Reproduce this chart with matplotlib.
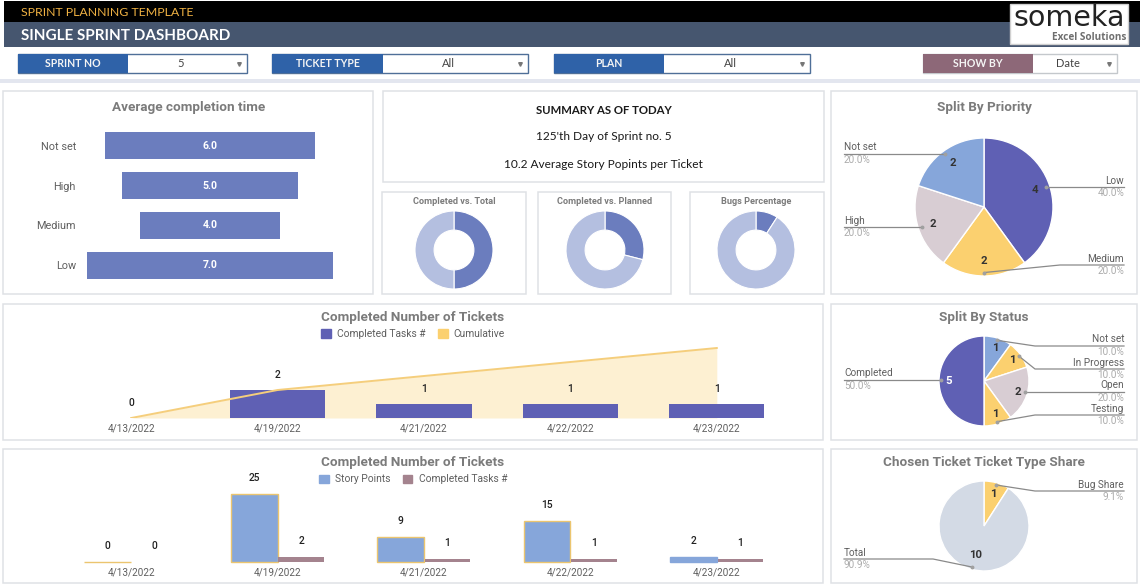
import numpy as np
import matplotlib
matplotlib.use('Agg')
import matplotlib.pyplot as plt
from matplotlib.patches import Rectangle, Patch

plt.rcParams['font.family'] = ['Roboto', 'DejaVu Sans']

# -----------------------------
# data
# -----------------------------

priority_labels = ['Not set', 'High', 'Medium', 'Low']
avg_time = [6.0, 5.0, 4.0, 7.0]

donut_titles = ['Completed vs. Total', 'Completed vs. Planned', 'Bugs Percentage']
donut_done = [50, 29, 9.1]

split_priority_labels = ['Low', 'Medium', 'High', 'Not set']
split_priority = [4, 2, 2, 2]
split_priority_pct = ['40.0%', '20.0%', '20.0%', '20.0%']

split_status_labels = ['Not set', 'In Progress', 'Open', 'Testing', 'Completed']
split_status = [1, 1, 2, 1, 5]
split_status_pct = ['10.0%', '10.0%', '20.0%', '10.0%', '50.0%']

share_labels = ['Bug Share', 'Total']
share_values = [1, 10]
share_pct = ['9.1%', '90.9%']

dates = ['4/13/2022', '4/19/2022', '4/21/2022', '4/22/2022', '4/23/2022']
completed_tasks = [0, 2, 1, 1, 1]
cumulative = [0, 2, 3, 4, 5]
story_points = [0, 25, 9, 15, 2]

filters = ['SPRINT NO', 'TICKET TYPE', 'PLAN', 'SHOW BY']
filter_values = ['5', 'All', 'All', 'Date']

summary_lines = ['SUMMARY AS OF TODAY', "125'th Day of Sprint no. 5",
                 '10.2 Average Story Popints per Ticket']

# -----------------------------
# colours
# -----------------------------

PURPLE = '#5F60B4'
BLUE = '#86A6DA'
YELLOW = '#FBD06F'
MAUVE = '#D8CDD3'
FUNNEL = '#6B7DBE'
DONUT_BG = '#B4BFE0'
TITLE = '#7B7B7B'
LABEL = '#5F5F5F'
PCT = '#ABABAB'
LINE = '#8A8A8A'
BORDER = '#DFE1E5'
BAR_EDGE = '#EBC56F'

W, H = 1140, 585
fig = plt.figure(figsize=(W / 100, H / 100), dpi=100, facecolor='white')


def px_axes(x0, y0, x1, y1, zorder=2):
    # axes placed by pixel box, y counted from the top like the screenshot
    ax = fig.add_axes([x0 / W, 1 - y1 / H, (x1 - x0) / W, (y1 - y0) / H], zorder=zorder)
    ax.patch.set_alpha(0)
    return ax


bg = px_axes(0, 0, W, H, zorder=0)
bg.set_xlim(0, W)
bg.set_ylim(H, 0)
bg.axis('off')
fg = px_axes(0, 0, W, H, zorder=10)
fg.set_xlim(0, W)
fg.set_ylim(H, 0)
fg.axis('off')


def box(x0, y0, x1, y1, fc='white', ec='none', lw=1.0, ax=bg, z=1):
    ax.add_patch(Rectangle((x0, y0), x1 - x0, y1 - y0, facecolor=fc, edgecolor=ec, linewidth=lw, zorder=z))


# -----------------------------
# header and filters
# -----------------------------

box(4, 1, W, 22, fc='black')
box(4, 22, W, 47, fc='#46566F')
bg.text(21, 12.5, 'SPRINT PLANNING TEMPLATE', family='Lato', fontsize=8.9, color='#F0B243', va='center', zorder=3)
bg.text(21, 35.5, 'SINGLE SPRINT DASHBOARD', family='Lato', fontsize=11.0, weight='bold', color='white', va='center', zorder=3)

box(1010, 4, 1128, 43.5, fc='white', ec='#D0D0D0', z=2)
bg.text(1069, 18, 'someka', family='DejaVu Sans', fontsize=20.5, color='#222222', ha='center', va='center', zorder=3)
bg.text(1126, 37.5, 'Excel Solutions', family='Open Sans', fontsize=7.2, weight='bold', color='#6F6F6F', ha='right', va='center', zorder=3)

filter_boxes = [(18, 128, 247), (272, 383, 528), (554, 664, 810), (923, 1033, 1117)]
for i, (name, val) in enumerate(zip(filters, filter_values)):
    x0, xm, x1 = filter_boxes[i]
    last = i == len(filters) - 1
    box(x0, 53.5, x1, 72.5, fc='white', ec='#C4C8CC' if last else '#4F6F98', lw=1)
    box(x0, 53.5, xm, 72.5, fc='#8D6878' if last else '#2F62A8', z=2)
    bg.text((x0 + xm) / 2, 63.5, name, family='Lato', fontsize=7.6, weight='bold', color='#F4F4F4', ha='center', va='center', zorder=3)
    bg.text((xm + x1) / 2 - 7, 63.5, val, family='Lato', fontsize=8, color='#444444', ha='center', va='center', zorder=3)
    bg.plot([x1 - 8], [63.5], marker='v', ms=2.6, color='#777777', zorder=3)

box(0, 79, W, 83, fc='#E3E6EF')

# -----------------------------
# panels
# -----------------------------

panels = [(3, 91, 373, 294), (383, 91, 824, 182), (382, 192, 526, 294), (538, 192, 671, 294),
          (690, 192, 824, 294), (831, 91, 1137, 294), (3, 304, 823, 440), (831, 304, 1137, 440),
          (3, 449, 823, 583), (831, 449, 1137, 583)]
for p in panels:
    box(*p, ec=BORDER, lw=1.1)

for i, line in enumerate(summary_lines):
    bg.text(603.5, [110, 137, 165][i], line, family='Lato', fontsize=8.2 if i == 0 else 8.6, weight='bold' if i == 0 else 'normal',
            color='#1A1A1A', ha='center', va='center', zorder=3)


def title(x, y, s, size=9.7):
    fg.text(x, y, s, fontsize=size, weight='bold', color=TITLE, ha='center', va='center')


title(188.5, 107.5, 'Average completion time')
title(984, 107.5, 'Split By Priority')
title(413, 317.5, 'Completed Number of Tickets')
title(984, 317.5, 'Split By Status')
title(413, 462.5, 'Completed Number of Tickets')
title(984, 462.5, 'Chosen Ticket Ticket Type Share')

# -----------------------------
# average completion time (centred bars)
# -----------------------------

ax = px_axes(85, 126, 335, 285)
ypos = np.arange(len(priority_labels))
ax.barh(ypos, avg_time, left=-np.array(avg_time) / 2, height=0.68, color=FUNNEL)
for y, v in zip(ypos, avg_time):
    ax.text(0, y, f'{v:.1f}', color='white', fontsize=7.6, weight='bold', ha='center', va='center')
ax.set_xlim(-3.56, 3.56)
ax.set_ylim(3.5, -0.5)
ax.set_yticks(ypos, priority_labels, fontsize=7.8, color=LABEL)
ax.set_xticks([])
ax.tick_params(axis='y', length=0, pad=6.5)
for s in ax.spines.values():
    s.set_visible(False)

# -----------------------------
# donuts
# -----------------------------

for cx, t, done in zip([454, 605, 756], donut_titles, donut_done):
    ax = px_axes(cx - 39, 211, cx + 39, 289)
    ax.pie([done, 100 - done], colors=[FUNNEL, DONUT_BG], startangle=90, counterclock=False, radius=1,
           wedgeprops=dict(width=0.49, edgecolor='white', linewidth=0.8))
    ax.set_xlim(-1, 1)
    ax.set_ylim(-1, 1)
    title(cx, 201, t, size=6.6)

# -----------------------------
# pies
# -----------------------------


def pie_chart(cx, cy, r, values, colors, names, pcts, label_spec, dist=0.78):
    ax = px_axes(cx - r, cy - r, cx + r, cy + r)
    wedges, _ = ax.pie(values, colors=colors, startangle=90, counterclock=False, radius=1,
                       wedgeprops=dict(edgecolor='white', linewidth=1.0))
    ax.set_xlim(-1, 1)
    ax.set_ylim(-1, 1)
    for w, v, c, name, pct, spec in zip(wedges, values, colors, names, pcts, label_spec):
        ang = np.deg2rad((w.theta1 + w.theta2) / 2)
        d = spec[3] if len(spec) > 3 else dist
        ax.text(d * np.cos(ang), d * np.sin(ang), str(v), fontsize=8.2, weight='bold',
                color='white' if c == PURPLE and v == 5 else '#333333', ha='center', va='center')
        # leader line from the wedge to the label, with elbow if asked
        ax_x = cx + 0.95 * r * np.cos(ang)
        ax_y = cy - 0.95 * r * np.sin(ang)
        side, ly, elbow = spec[:3]
        end = 844 if side == 'left' else 1124
        xs = [ax_x, elbow, end] if elbow else [ax_x, end]
        ys = [ax_y, ly, ly] if elbow else [ly, ly]
        fg.plot(xs, ys, color=LINE, lw=0.9)
        fg.plot([xs[0]], [ys[0]], marker='o', ms=1.8, color='#A0A0A0')
        ha = 'left' if side == 'left' else 'right'
        fg.text(end, ly - 6.5, name, fontsize=7.2, color=LABEL, ha=ha, va='center')
        fg.text(end, ly + 6, pct, fontsize=7.2, color=PCT, ha=ha, va='center')


pie_chart(984, 207, 69, split_priority, [PURPLE, YELLOW, MAUVE, BLUE], split_priority_labels, split_priority_pct,
          [('right', 187, None), ('right', 265, 1060), ('left', 227, None), ('left', 154, None)])
pie_chart(984, 381, 45, split_status, [BLUE, YELLOW, MAUVE, YELLOW, PURPLE], split_status_labels, split_status_pct,
          [('right', 346, 1035), ('right', 369, 1035), ('right', 392, None), ('right', 415, 1035), ('left', 380, None)])
pie_chart(984, 526, 45, share_values, [YELLOW, '#D3DAE5'], share_labels, share_pct,
          [('right', 491, 1035, 0.74), ('left', 559, 933, 0.67)])

# -----------------------------
# completed tasks and cumulative
# -----------------------------

x = np.arange(len(dates))
ax = px_axes(58, 334, 790, 418)
ax.fill_between(x, cumulative, color='#FDF0D2', lw=0)
ax.plot(x, cumulative, color='#F5CE7C', lw=1.4, label='Cumulative', zorder=3)
ax.bar(x, completed_tasks, width=0.65, color=PURPLE, zorder=2)
for xi, v in zip(x, completed_tasks):
    ax.annotate(str(v), (xi, v), xytext=(0, 10.5), textcoords='offset points', ha='center', va='center',
                fontsize=7.4, weight='medium', color='#222222')
ax.set_xlim(-0.5, 4.5)
ax.set_ylim(0, 6)
ax.set_xticks(x, dates, fontsize=7.2, color=LABEL)
ax.set_yticks([])
ax.tick_params(axis='x', length=0, pad=4)
for s in ax.spines.values():
    s.set_visible(False)
fig.legend(handles=[Patch(color=PURPLE, label='Completed Tasks #'), Patch(color=YELLOW, label='Cumulative')],
           loc='center', bbox_to_anchor=(413 / W, 1 - 334 / H), ncol=2, frameon=False, fontsize=7.4,
           labelcolor=LABEL, handlelength=0.95, handleheight=0.95, handletextpad=0.6, columnspacing=1.2)

# -----------------------------
# story points and completed tasks
# -----------------------------

ax = px_axes(58, 480, 790, 562)
bar_w = 0.32
story_bars = ax.bar(x - bar_w / 2, story_points, width=bar_w, color=BLUE, edgecolor=BAR_EDGE, linewidth=1.0, zorder=2, clip_on=False)
story_bars[-1].set_edgecolor(BLUE)
ax.bar(x + bar_w / 2, completed_tasks, width=bar_w * 0.97, color='#A4838E', zorder=2)
for xi, s_v, t_v in zip(x, story_points, completed_tasks):
    ax.annotate(str(s_v), (xi - bar_w / 2, s_v), xytext=(0, 11.5), textcoords='offset points', ha='center', va='center',
                fontsize=7.4, weight='medium', color='#222222')
    ax.annotate(str(t_v), (xi + bar_w / 2, t_v), xytext=(0, 11.5), textcoords='offset points', ha='center', va='center',
                fontsize=7.4, weight='medium', color='#222222')
ax.set_xlim(-0.5, 4.5)
ax.set_ylim(0, 30)
ax.set_xticks(x, dates, fontsize=7.2, color=LABEL)
ax.set_yticks([])
ax.tick_params(axis='x', length=0, pad=4)
for s in ax.spines.values():
    s.set_visible(False)
fig.legend(handles=[Patch(color=BLUE, label='Story Points'), Patch(color='#A4838E', label='Completed Tasks #')],
           loc='center', bbox_to_anchor=(413 / W, 1 - 479.5 / H), ncol=2, frameon=False, fontsize=7.4,
           labelcolor=LABEL, handlelength=0.95, handleheight=0.95, handletextpad=0.6, columnspacing=1.2)

fig.savefig('out.png', dpi=100)
